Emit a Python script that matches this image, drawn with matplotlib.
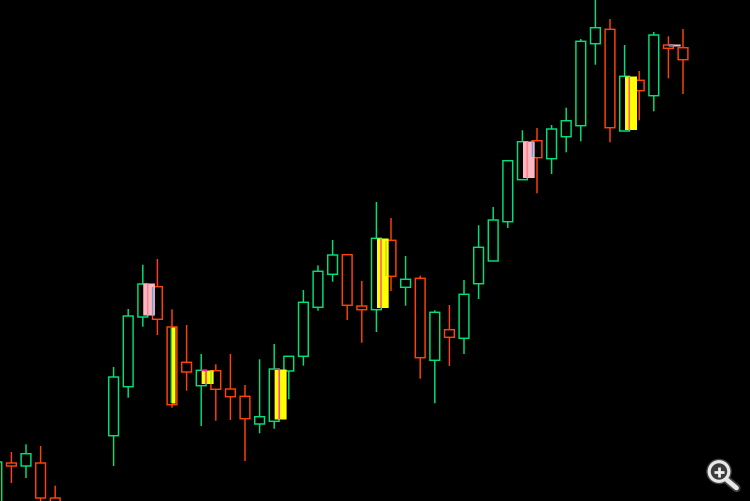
import numpy as np
import matplotlib
matplotlib.use("Agg")
import matplotlib.pyplot as plt
from matplotlib.patches import Rectangle, Circle

W, H = 750, 501
X0, STEP = 11.4, 14.6   # pixel position of candle 0 and candle spacing

# candle index, direction and price levels (inverted chart scale)
index = list(range(-1, 4)) + list(range(7, 47))
up = [1,0,1,0,0,
      1,1,1,0,0,0,1,0,0,0,
      1,1,1,1,1,1,0,0,
      1,0,1,0,1,0,1,1,1,1,1,0,1,1,1,1,
      0,1,0,1,0,0]
high = [462,452,444.3,446,485.7,
        367,309,264.7,259,309.3,325,354,364.3,354,385,
        359.3,344,356.3,290,265.3,240,254.7,281,
        202,218,256,275.7,310.3,305,280,225.3,207,160.7,130.3,128,125,107.7,39,-2,
        19,45,71,32,36.3,29]
low = [510,483,478,510,510,
       466,397.7,326.7,335,407.7,390.7,426,420.7,420,461,
       433.3,428.7,399.3,365.7,310.7,281.7,320,342.7,
       332,291,305.7,378.7,403.3,366,354,299,261,228,179.7,193.3,174,152.3,141.3,64.7,
       142.3,131.3,120.3,111.3,78.3,94]
body_top = [462,463,453.7,463,498,
            377,316,284,286.7,327,362.3,370.3,370.7,389,396.3,
            416.7,369,356.3,302.3,271.3,255,254.7,306,
            238.3,240.3,279.3,278.3,312.3,329.7,294.3,247.3,220,160.7,141.7,140.7,129,120.7,41.3,27.7,
            29.3,76.3,80.3,35,45,47.7]
body_bot = [510,466,466,498,510,
            435.7,386.7,317,319.3,404.7,372,385.7,389.3,396.7,418.7,
            424,421.3,371,356.3,307.3,274.3,305.3,309.7,
            309.7,276.3,287.3,357.7,360.3,337.3,338.3,283.7,261,221.7,179.7,157.7,158.7,136.7,125.7,43.7,
            127.7,131,90.7,95.7,48.3,59.7]

# highlighted zones: candle index, top, bottom, width in candles, colour
zone_candle = [9, 11, 13, 18, 25, 35, 42, 45]
zone_start = [0.03, -0.03, 0.03, 0.03, 0.04, 0.04, 0.03, 0.04]
zone_width = [0.80, 0.27, 0.82, 0.82, 0.80, 0.80, 0.82, 0.80]
zone_top = [283.5, 327.5, 370.5, 369.5, 238.5, 141.5, 76.5, 44.5]
zone_bot = [315.5, 403.5, 384, 419.5, 308, 178, 130, 46.5]
zone_color = ["#ffb6c1", "#ffff00", "#ffff00", "#ffff00", "#ffff00", "#ffb6c1", "#ffff00", "#ffb6c1"]

GREEN, RED = "#00e07a", "#ff4208"
LW = 1.05

def xi(px):
    return (px - X0) / STEP

fig = plt.figure(figsize=(W / 100, H / 100), dpi=100, facecolor="black")
ax = fig.add_axes([0, 0, 1, 1], facecolor="black")
ax.set_xlim(xi(0), xi(W))
ax.set_ylim(H, 0)
ax.axis("off")

halfw = 0.335
for i, u, hi, lo, t, b in zip(index, up, high, low, body_top, body_bot):
    c = GREEN if u else RED
    ax.plot([i, i], [hi, t], color=c, lw=LW, snap=False, solid_capstyle="butt", zorder=2)
    ax.plot([i, i], [b, lo], color=c, lw=LW, snap=False, solid_capstyle="butt", zorder=2)
    ax.add_patch(Rectangle((i - halfw, t), 2 * halfw, b - t, fill=False, edgecolor=c,
                           lw=LW, snap=False, zorder=3))

for i, s, w, t, b, c in zip(zone_candle, zone_start, zone_width, zone_top, zone_bot, zone_color):
    ax.add_patch(Rectangle((i + s, t), w, b - t, facecolor=c, edgecolor="none", snap=False, zorder=4))

# edges of the candles showing through the highlighted zones
stripes = [
    (147.7, 284, 316, "#ff7f8a"), (152.6, 287, 316, "#6f9fd8"),
    (171.3, 328, 403, "#50d040"),
    (206.0, 371, 384, "#ff20a0"), (211.0, 371, 384, "#90e020"),
    (279.2, 370, 419, "#ff30a0"),
    (381.0, 239, 308, "#ff5080"), (386.0, 241, 276, "#c8d820"),
    (527.2, 142, 178, "#ff7f8a"), (532.4, 142, 157, "#6f9fd8"),
    (629.2, 77, 130, "#ff5080"),
]
for px, t, b, c in stripes:
    ax.plot([xi(px)] * 2, [t, b], color=c, lw=LW, snap=False, solid_capstyle="butt", zorder=5)
ax.plot([xi(275), xi(279)], [369.3] * 2, color="#ff20a0", lw=LW, snap=False, zorder=5)
ax.plot([xi(202), xi(207)], [370.5] * 2, color="#ff20a0", lw=LW, snap=False, zorder=5)
ax.plot([xi(669), xi(673)], [45.5] * 2, color="#3090d0", lw=1.2, snap=False, zorder=5)

# magnifier icon in pixel coordinates
icon = fig.add_axes([0, 0, 1, 1], facecolor="none")
icon.set_xlim(0, W)
icon.set_ylim(H, 0)
icon.axis("off")
icon.plot([727, 736.5], [480, 488], color="#404040", lw=6.0, solid_capstyle="round", zorder=1)
icon.plot([727, 736.5], [480, 488], color="#e8e8e8", lw=3.4, solid_capstyle="round", zorder=3)
icon.add_patch(Circle((719, 471.5), 12.8, facecolor="#404040", edgecolor="none", zorder=2))
icon.add_patch(Circle((719, 471.5), 9.8, facecolor="#3c3c3c", edgecolor="#e8e8e8", lw=2.3, zorder=3))
icon.plot([714, 724], [471.5, 471.5], color="#f0f0f0", lw=2.0, solid_capstyle="butt", zorder=4)
icon.plot([719, 719], [466.5, 476.5], color="#f0f0f0", lw=2.0, solid_capstyle="butt", zorder=4)

fig.savefig("out.png", dpi=100, facecolor="black")
